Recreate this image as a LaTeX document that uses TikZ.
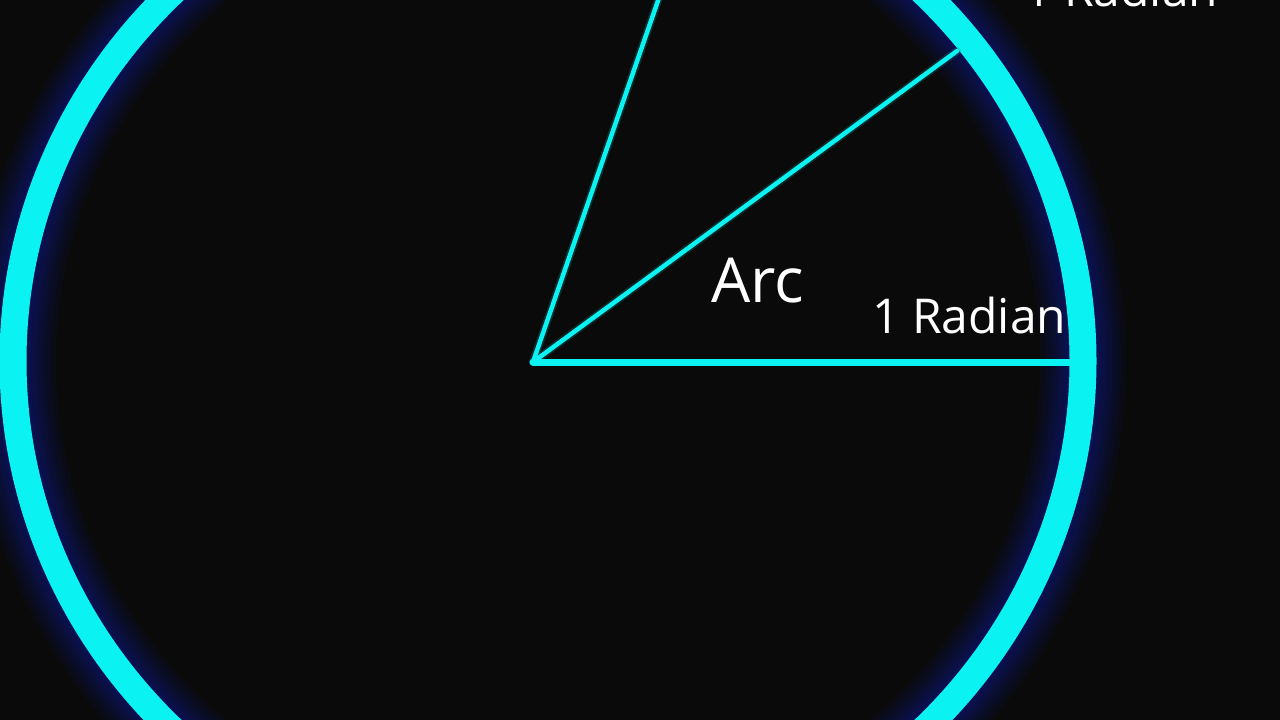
\documentclass[tikz,border=0pt]{standalone}
\usepackage{fontspec}
\setmainfont{Open Sans}
\begin{document}
\begin{tikzpicture}[x=1pt,y=-1pt,
  ringglow/.style={draw=glowblue,opacity=0.07},
  ring/.style={draw=ringcyan,line width=27pt},
  spoke/.style={draw=ringcyan,line width=4.5pt,line cap=round},
  spokeglow/.style={draw=ringcyan!60!black,line width=8pt,opacity=0.25,line cap=round},
  basespoke/.style={draw=ringcyan,line width=7pt,line cap=round},
  lbl/.style={text=white,inner sep=0pt,anchor=base west}]
\definecolor{bg}{RGB}{10,10,10}
\definecolor{ringcyan}{RGB}{10,242,242}
\definecolor{glowblue}{RGB}{15,30,170}
\useasboundingbox (0,0) rectangle (1280,720);
\fill[bg] (0,0) rectangle (1280,720);
\clip (0,0) rectangle (1280,720);
% glow around ring
\foreach \w in {86,76,67,59,52,46,40,35}{
  \draw[ringglow,line width=\w pt] (548,361) ellipse [x radius=535, y radius=518];
}
\draw[ring] (548,361) ellipse [x radius=535, y radius=518];
% spokes
\coordinate (O) at (533,362);
\coordinate (A) at (1072,362);
\coordinate (B) at (957,51);
\coordinate (C) at (661,-8);
\draw[spokeglow] (O) -- (B);
\draw[spokeglow] (O) -- (C);
\draw[basespoke] (O) -- (A);
\draw[spoke] (O) -- (B);
\draw[spoke] (O) -- (C);
% labels
\node[lbl,font=\fontsize{62}{62}\selectfont] (arc) at (711,302) {Arc};
\node[lbl,font=\fontsize{48}{48}\selectfont] (r1) at (872,333) {1 Radian};
\node[lbl,font=\fontsize{48}{48}\selectfont] (r2) at (1024,6) {1 Radian};
\end{tikzpicture}
\end{document}
